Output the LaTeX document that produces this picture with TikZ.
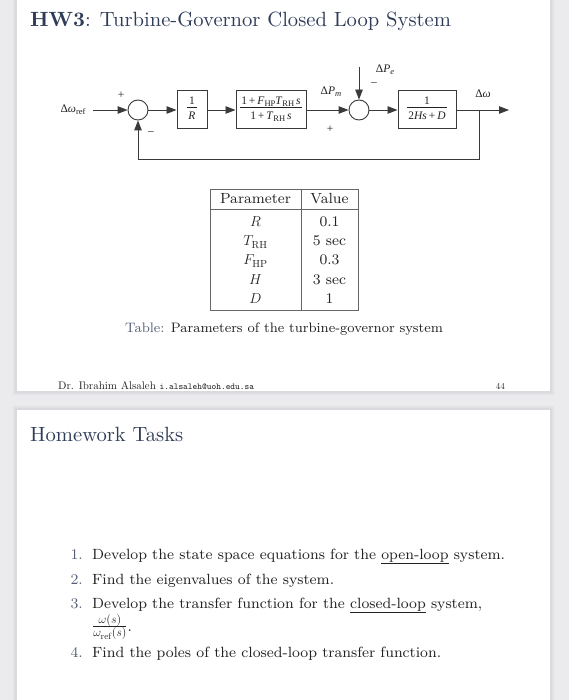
\documentclass[tikz,border=0pt]{standalone}
\usepackage{fontspec}
\usetikzlibrary{arrows.meta}
\newfontfamily\diagfont{Liberation Serif}
\newfontfamily\rmeight{lmroman8-regular.otf}
\newfontfamily\rmten{lmroman10-regular.otf}[BoldFont=lmroman10-bold.otf]
\definecolor{bgc}{HTML}{EBEBEE}
\definecolor{shc}{HTML}{D9D9DE}
\definecolor{shc2}{HTML}{E2E2E6}
\definecolor{slate}{HTML}{2F3C58}
\definecolor{numc}{HTML}{56607A}
\definecolor{ink}{HTML}{222222}
\definecolor{dline}{HTML}{3A3A3A}
\definecolor{tline}{HTML}{666666}
\newcommand\blkfrac[2]{\begin{tabular}{@{\hspace{1.5pt}}c@{\hspace{1.5pt}}}#1\\[-1pt]\hline\rule{0pt}{12pt}#2\end{tabular}}
\newcommand\sbs[1]{\raisebox{-0.35ex}{\fontsize{8.5}{9}\selectfont #1}}
\begin{document}
\begin{tikzpicture}[x=1pt,y=-1pt,
  blk/.style={draw=dline,line width=1pt,minimum height=38pt,inner sep=0pt,font=\diagfont\fontsize{11.5}{12}\selectfont,text=ink},
  sumc/.style={draw=dline,line width=0.9pt,circle,minimum size=20pt,inner sep=0pt},
  sig/.style={draw=dline,line width=0.9pt,-{Triangle[length=10pt,width=7.5pt]}},
  lbl/.style={font=\diagfont\fontsize{11.5}{12}\selectfont,text=ink,inner sep=0pt},
  ttl/.style={font=\rmten\fontsize{20.6}{24}\selectfont,text=slate,inner sep=0pt,anchor=base west},
  tabtxt/.style={font=\rmeight\fontsize{14.7}{17}\selectfont,text=ink,inner sep=0pt,anchor=base},
  itm/.style={font=\rmeight\fontsize{14.8}{18}\selectfont,text=ink,inner sep=0pt,anchor=base west},
  inum/.style={font=\rmeight\fontsize{14.8}{18}\selectfont,text=numc,inner sep=0pt,anchor=base east}]
\useasboundingbox (0,0) rectangle (569,700);
\fill[bgc] (0,0) rectangle (569,700);
% slide shadows
\fill[shc2] (13,-5) rectangle (554,395);
\fill[shc] (15,-5) rectangle (552,393);
\fill[shc2] (13,406) rectangle (554,705);
\fill[shc] (15,408) rectangle (552,705);
\fill[white] (17,-5) rectangle (550,391);
\fill[white] (17,410) rectangle (550,705);

% title
\node[ttl] (title) at (30,27) {\textbf{HW3}: Turbine-Governor Closed Loop System};

% block diagram
\node[sumc] (s1) at (138,110) {};
\node[blk,minimum width=30pt] (bR) at (192,110) {\blkfrac{1}{\textit{R}}};
\node[blk,minimum width=70pt] (bT) at (271,110) {\blkfrac{1\,+\,\textit{F}\sbs{HP}\textit{T}\sbs{RH}\,\textit{s}}{1\,+\,\textit{T}\sbs{RH}\,\textit{s}}};
\node[sumc] (s2) at (359,110) {};
\node[blk,minimum width=58pt] (bG) at (427,110) {\blkfrac{1}{2\textit{Hs}\,+\,\textit{D}}};
\coordinate (in) at (93,110);
\coordinate (out) at (509,110);
\coordinate (fb) at (479,110);
\coordinate (fbc) at (479,159);
\coordinate (pe) at (359,67);
\draw[sig] (in) -- (s1);
\draw[sig] (s1) -- (bR);
\draw[sig] (bR) -- (bT);
\draw[sig] (bT) -- (s2);
\draw[sig] (s2) -- (bG);
\draw[sig] (bG) -- (out);
\draw[sig] (fb) -- (fbc) -| (s1.south);
\draw[sig] (pe) -- (s2);
\node[lbl] (lref) at (73,110) {Δ\textit{ω}\sbs{ref}};
\node[lbl] (p1) at (121,95) {+};
\node[lbl] (m1) at (151,133) {–};
\node[lbl] (lpm) at (331,92) {Δ\textit{P}\sbs{\textit{m}}};
\node[lbl] (p2) at (330,129) {+};
\node[lbl] (lpe) at (385,70) {Δ\textit{P}\sbs{\textit{e}}};
\node[lbl] (m2) at (374,84) {–};
\node[lbl] (lw) at (483,94) {Δ\textit{ω}};

% table
\draw[tline,line width=0.8pt] (210,189) rectangle (358,310);
\draw[tline,line width=0.8pt] (210,209) -- (358,209);
\draw[tline,line width=0.8pt] (301,189) -- (301,310);
\node[tabtxt] (h1) at (255.5,204) {Parameter};
\node[tabtxt] (h2) at (329.5,204) {Value};
\node[tabtxt] (r1) at (255.5,227) {$R$};
\node[tabtxt] (r2) at (255.5,246) {$T_{\mathrm{RH}}$};
\node[tabtxt] (r3) at (255.5,265) {$F_{\mathrm{HP}}$};
\node[tabtxt] (r4) at (255.5,284) {$H$};
\node[tabtxt] (r5) at (255.5,303) {$D$};
\node[tabtxt] (v1) at (329.5,227) {0.1};
\node[tabtxt] (v2) at (329.5,246) {5 sec};
\node[tabtxt] (v3) at (329.5,265) {0.3};
\node[tabtxt] (v4) at (329.5,284) {3 sec};
\node[tabtxt] (v5) at (329.5,303) {1};
\node[font=\rmeight\fontsize{13.7}{17}\selectfont,text=ink,inner sep=0pt,anchor=base west] (cap) at (125,332) {\textcolor{numc}{Table:} Parameters of the turbine-governor system};

% footer
\node[font=\rmten\fontsize{11}{12}\selectfont,text=ink,inner sep=0pt,anchor=base west] (foot) at (58,389) {Dr. Ibrahim Alsaleh \texttt{\fontsize{9}{11}\selectfont i.alsaleh@uoh.edu.sa}};
\node[font=\rmten\fontsize{9}{11}\selectfont,text=ink,inner sep=0pt,anchor=base east] (pg) at (505,389) {44};

% slide 2
\node[ttl] (hw) at (30,441) {Homework Tasks};
\node[inum] (n1) at (83,559) {1.};
\node[itm] (t1) at (92,559) {Develop the state space equations for the \underline{open-loop} system.};
\node[inum] (n2) at (83,584) {2.};
\node[itm] (t2) at (92,584) {Find the eigenvalues of the system.};
\node[inum] (n3) at (83,608) {3.};
\node[itm] (t3) at (92,608) {Develop the transfer function for the \underline{closed-loop} system,};
\node[itm,font=\rmeight\fontsize{18}{20}\selectfont] (t3b) at (92,631) {$\frac{\omega(s)}{\omega_{\mathrm{ref}}(s)}$\fontsize{14.8}{18}\selectfont.};
\node[inum] (n4) at (83,657) {4.};
\node[itm] (t4) at (92,657) {Find the poles of the closed-loop transfer function.};
\end{tikzpicture}
\end{document}
